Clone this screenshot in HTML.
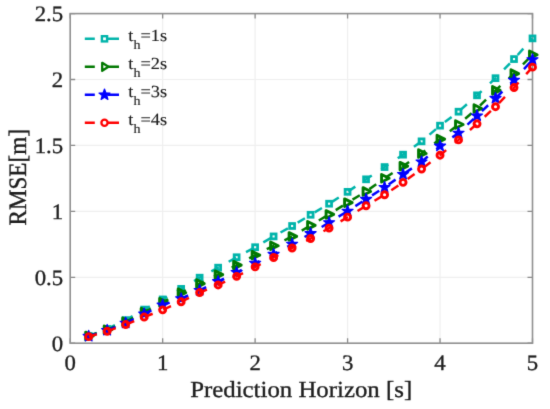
<!DOCTYPE html>
<html><head><meta charset="utf-8"><style>html,body{margin:0;padding:0;background:#fff;overflow:hidden}svg{display:block}text{text-rendering:geometricPrecision}</style></head>
<body>
<svg width="550" height="409" viewBox="0 0 550 409">
<defs><filter id="bl" x="0" y="0" width="100%" height="100%" color-interpolation-filters="sRGB"><feConvolveMatrix order="3" kernelMatrix="0.0113 0.0838 0.0113 0.0838 0.6193 0.0838 0.0113 0.0838 0.0113" divisor="1" edgeMode="duplicate" preserveAlpha="true"/></filter></defs>
<g filter="url(#bl)">
<rect width="550" height="409" fill="#fff"/>
<path d="M162.66 13.60V343.20M255.12 13.60V343.20M347.58 13.60V343.20M440.04 13.60V343.20M70.20 277.28H532.50M70.20 211.36H532.50M70.20 145.44H532.50M70.20 79.52H532.50" stroke="#efefef" stroke-width="1.2" fill="none"/>
<path d="M70.20 343.20v-5M70.20 13.60v5M162.66 343.20v-5M162.66 13.60v5M255.12 343.20v-5M255.12 13.60v5M347.58 343.20v-5M347.58 13.60v5M440.04 343.20v-5M440.04 13.60v5M532.50 343.20v-5M532.50 13.60v5M70.20 343.20h5M532.50 343.20h-5M70.20 277.28h5M532.50 277.28h-5M70.20 211.36h5M532.50 211.36h-5M70.20 145.44h5M532.50 145.44h-5M70.20 79.52h5M532.50 79.52h-5M70.20 13.60h5M532.50 13.60h-5" stroke="#8a8a8a" stroke-width="1.3" fill="none"/>
<rect x="70.20" y="13.60" width="462.30" height="329.60" fill="none" stroke="#909090" stroke-width="1.6"/>
<polyline points="88.69,335.82 107.18,328.96 125.68,320.13 144.17,309.58 162.66,299.43 181.15,288.88 199.64,277.68 218.14,267.66 236.63,257.24 255.12,247.22 273.61,236.41 292.10,225.99 310.60,214.79 329.09,203.71 347.58,191.85 366.07,179.32 384.56,167.06 403.06,154.67 421.55,141.35 440.04,125.66 458.53,111.69 477.02,95.34 495.52,78.20 514.01,59.08 532.50,38.39" fill="none" stroke="#00b4aa" stroke-width="2.5" stroke-dasharray="8.5 11.33" stroke-linecap="butt" stroke-linejoin="round"/>
<rect x="86.24" y="333.37" width="4.90" height="4.90" fill="none" stroke="#00b4aa" stroke-width="2.8"/>
<rect x="104.73" y="326.51" width="4.90" height="4.90" fill="none" stroke="#00b4aa" stroke-width="2.8"/>
<rect x="123.23" y="317.68" width="4.90" height="4.90" fill="none" stroke="#00b4aa" stroke-width="2.8"/>
<rect x="141.72" y="307.13" width="4.90" height="4.90" fill="none" stroke="#00b4aa" stroke-width="2.8"/>
<rect x="160.21" y="296.98" width="4.90" height="4.90" fill="none" stroke="#00b4aa" stroke-width="2.8"/>
<rect x="178.70" y="286.43" width="4.90" height="4.90" fill="none" stroke="#00b4aa" stroke-width="2.8"/>
<rect x="197.19" y="275.23" width="4.90" height="4.90" fill="none" stroke="#00b4aa" stroke-width="2.8"/>
<rect x="215.69" y="265.21" width="4.90" height="4.90" fill="none" stroke="#00b4aa" stroke-width="2.8"/>
<rect x="234.18" y="254.79" width="4.90" height="4.90" fill="none" stroke="#00b4aa" stroke-width="2.8"/>
<rect x="252.67" y="244.77" width="4.90" height="4.90" fill="none" stroke="#00b4aa" stroke-width="2.8"/>
<rect x="271.16" y="233.96" width="4.90" height="4.90" fill="none" stroke="#00b4aa" stroke-width="2.8"/>
<rect x="289.65" y="223.54" width="4.90" height="4.90" fill="none" stroke="#00b4aa" stroke-width="2.8"/>
<rect x="308.15" y="212.34" width="4.90" height="4.90" fill="none" stroke="#00b4aa" stroke-width="2.8"/>
<rect x="326.64" y="201.26" width="4.90" height="4.90" fill="none" stroke="#00b4aa" stroke-width="2.8"/>
<rect x="345.13" y="189.40" width="4.90" height="4.90" fill="none" stroke="#00b4aa" stroke-width="2.8"/>
<rect x="363.62" y="176.87" width="4.90" height="4.90" fill="none" stroke="#00b4aa" stroke-width="2.8"/>
<rect x="382.11" y="164.61" width="4.90" height="4.90" fill="none" stroke="#00b4aa" stroke-width="2.8"/>
<rect x="400.61" y="152.22" width="4.90" height="4.90" fill="none" stroke="#00b4aa" stroke-width="2.8"/>
<rect x="419.10" y="138.90" width="4.90" height="4.90" fill="none" stroke="#00b4aa" stroke-width="2.8"/>
<rect x="437.59" y="123.21" width="4.90" height="4.90" fill="none" stroke="#00b4aa" stroke-width="2.8"/>
<rect x="456.08" y="109.24" width="4.90" height="4.90" fill="none" stroke="#00b4aa" stroke-width="2.8"/>
<rect x="474.57" y="92.89" width="4.90" height="4.90" fill="none" stroke="#00b4aa" stroke-width="2.8"/>
<rect x="493.07" y="75.75" width="4.90" height="4.90" fill="none" stroke="#00b4aa" stroke-width="2.8"/>
<rect x="511.56" y="56.63" width="4.90" height="4.90" fill="none" stroke="#00b4aa" stroke-width="2.8"/>
<rect x="530.05" y="35.94" width="4.90" height="4.90" fill="none" stroke="#00b4aa" stroke-width="2.8"/>
<polyline points="88.69,335.95 107.18,329.75 125.68,321.84 144.17,312.22 162.66,302.33 181.15,292.71 199.64,283.61 218.14,274.64 236.63,265.15 255.12,255.13 273.61,245.77 292.10,236.41 310.60,225.34 329.09,214.39 347.58,202.66 366.07,191.45 384.56,178.27 403.06,166.14 421.55,153.48 440.04,139.11 458.53,124.48 477.02,108.52 495.52,90.33 514.01,73.59 532.50,54.73" fill="none" stroke="#007800" stroke-width="2.5" stroke-dasharray="8.5 11.33" stroke-linecap="butt" stroke-linejoin="round"/>
<polygon points="85.69,332.15 93.29,335.95 85.69,339.75" fill="none" stroke="#007800" stroke-width="2.9" stroke-linejoin="round"/>
<polygon points="104.18,325.95 111.78,329.75 104.18,333.55" fill="none" stroke="#007800" stroke-width="2.9" stroke-linejoin="round"/>
<polygon points="122.68,318.04 130.28,321.84 122.68,325.64" fill="none" stroke="#007800" stroke-width="2.9" stroke-linejoin="round"/>
<polygon points="141.17,308.42 148.77,312.22 141.17,316.02" fill="none" stroke="#007800" stroke-width="2.9" stroke-linejoin="round"/>
<polygon points="159.66,298.53 167.26,302.33 159.66,306.13" fill="none" stroke="#007800" stroke-width="2.9" stroke-linejoin="round"/>
<polygon points="178.15,288.91 185.75,292.71 178.15,296.51" fill="none" stroke="#007800" stroke-width="2.9" stroke-linejoin="round"/>
<polygon points="196.64,279.81 204.24,283.61 196.64,287.41" fill="none" stroke="#007800" stroke-width="2.9" stroke-linejoin="round"/>
<polygon points="215.14,270.84 222.74,274.64 215.14,278.44" fill="none" stroke="#007800" stroke-width="2.9" stroke-linejoin="round"/>
<polygon points="233.63,261.35 241.23,265.15 233.63,268.95" fill="none" stroke="#007800" stroke-width="2.9" stroke-linejoin="round"/>
<polygon points="252.12,251.33 259.72,255.13 252.12,258.93" fill="none" stroke="#007800" stroke-width="2.9" stroke-linejoin="round"/>
<polygon points="270.61,241.97 278.21,245.77 270.61,249.57" fill="none" stroke="#007800" stroke-width="2.9" stroke-linejoin="round"/>
<polygon points="289.10,232.61 296.70,236.41 289.10,240.21" fill="none" stroke="#007800" stroke-width="2.9" stroke-linejoin="round"/>
<polygon points="307.60,221.54 315.20,225.34 307.60,229.14" fill="none" stroke="#007800" stroke-width="2.9" stroke-linejoin="round"/>
<polygon points="326.09,210.59 333.69,214.39 326.09,218.19" fill="none" stroke="#007800" stroke-width="2.9" stroke-linejoin="round"/>
<polygon points="344.58,198.86 352.18,202.66 344.58,206.46" fill="none" stroke="#007800" stroke-width="2.9" stroke-linejoin="round"/>
<polygon points="363.07,187.65 370.67,191.45 363.07,195.25" fill="none" stroke="#007800" stroke-width="2.9" stroke-linejoin="round"/>
<polygon points="381.56,174.47 389.16,178.27 381.56,182.07" fill="none" stroke="#007800" stroke-width="2.9" stroke-linejoin="round"/>
<polygon points="400.06,162.34 407.66,166.14 400.06,169.94" fill="none" stroke="#007800" stroke-width="2.9" stroke-linejoin="round"/>
<polygon points="418.55,149.68 426.15,153.48 418.55,157.28" fill="none" stroke="#007800" stroke-width="2.9" stroke-linejoin="round"/>
<polygon points="437.04,135.31 444.64,139.11 437.04,142.91" fill="none" stroke="#007800" stroke-width="2.9" stroke-linejoin="round"/>
<polygon points="455.53,120.68 463.13,124.48 455.53,128.28" fill="none" stroke="#007800" stroke-width="2.9" stroke-linejoin="round"/>
<polygon points="474.02,104.72 481.62,108.52 474.02,112.32" fill="none" stroke="#007800" stroke-width="2.9" stroke-linejoin="round"/>
<polygon points="492.52,86.53 500.12,90.33 492.52,94.13" fill="none" stroke="#007800" stroke-width="2.9" stroke-linejoin="round"/>
<polygon points="511.01,69.79 518.61,73.59 511.01,77.39" fill="none" stroke="#007800" stroke-width="2.9" stroke-linejoin="round"/>
<polygon points="529.50,50.93 537.10,54.73 529.50,58.53" fill="none" stroke="#007800" stroke-width="2.9" stroke-linejoin="round"/>
<polyline points="88.69,336.21 107.18,330.28 125.68,323.03 144.17,313.93 162.66,304.97 181.15,298.64 199.64,290.33 218.14,281.50 236.63,272.40 255.12,263.17 273.61,254.21 292.10,244.06 310.60,233.51 329.09,222.57 347.58,211.10 366.07,199.23 384.56,187.37 403.06,174.31 421.55,161.79 440.04,145.97 458.53,133.05 477.02,115.78 495.52,98.24 514.01,80.05 532.50,59.61" fill="none" stroke="#0000ff" stroke-width="2.5" stroke-dasharray="8.5 11.33" stroke-linecap="butt" stroke-linejoin="round"/>
<polygon points="88.69,330.41 90.10,334.27 94.21,334.42 90.97,336.95 92.10,340.90 88.69,338.61 85.28,340.90 86.41,336.95 83.18,334.42 87.28,334.27" fill="#0000ff" stroke="#0000ff" stroke-width="1.2" stroke-linejoin="round"/>
<polygon points="107.18,324.48 108.59,328.34 112.70,328.49 109.47,331.02 110.59,334.97 107.18,332.68 103.77,334.97 104.90,331.02 101.67,328.49 105.77,328.34" fill="#0000ff" stroke="#0000ff" stroke-width="1.2" stroke-linejoin="round"/>
<polygon points="125.68,317.23 127.09,321.09 131.19,321.24 127.96,323.77 129.09,327.72 125.68,325.43 122.27,327.72 123.39,323.77 120.16,321.24 124.27,321.09" fill="#0000ff" stroke="#0000ff" stroke-width="1.2" stroke-linejoin="round"/>
<polygon points="144.17,308.13 145.58,311.99 149.68,312.14 146.45,314.67 147.58,318.62 144.17,316.33 140.76,318.62 141.89,314.67 138.65,312.14 142.76,311.99" fill="#0000ff" stroke="#0000ff" stroke-width="1.2" stroke-linejoin="round"/>
<polygon points="162.66,299.17 164.07,303.02 168.18,303.17 164.94,305.71 166.07,309.66 162.66,307.37 159.25,309.66 160.38,305.71 157.14,303.17 161.25,303.02" fill="#0000ff" stroke="#0000ff" stroke-width="1.2" stroke-linejoin="round"/>
<polygon points="181.15,292.84 182.56,296.70 186.67,296.85 183.43,299.38 184.56,303.33 181.15,301.04 177.74,303.33 178.87,299.38 175.64,296.85 179.74,296.70" fill="#0000ff" stroke="#0000ff" stroke-width="1.2" stroke-linejoin="round"/>
<polygon points="199.64,284.53 201.05,288.39 205.16,288.54 201.93,291.07 203.05,295.02 199.64,292.73 196.23,295.02 197.36,291.07 194.13,288.54 198.23,288.39" fill="#0000ff" stroke="#0000ff" stroke-width="1.2" stroke-linejoin="round"/>
<polygon points="218.14,275.70 219.55,279.56 223.65,279.71 220.42,282.24 221.55,286.19 218.14,283.90 214.73,286.19 215.85,282.24 212.62,279.71 216.73,279.56" fill="#0000ff" stroke="#0000ff" stroke-width="1.2" stroke-linejoin="round"/>
<polygon points="236.63,266.60 238.04,270.46 242.14,270.61 238.91,273.14 240.04,277.09 236.63,274.80 233.22,277.09 234.35,273.14 231.11,270.61 235.22,270.46" fill="#0000ff" stroke="#0000ff" stroke-width="1.2" stroke-linejoin="round"/>
<polygon points="255.12,257.37 256.53,261.23 260.64,261.38 257.40,263.91 258.53,267.87 255.12,265.57 251.71,267.87 252.84,263.91 249.60,261.38 253.71,261.23" fill="#0000ff" stroke="#0000ff" stroke-width="1.2" stroke-linejoin="round"/>
<polygon points="273.61,248.41 275.02,252.27 279.13,252.42 275.89,254.95 277.02,258.90 273.61,256.61 270.20,258.90 271.33,254.95 268.10,252.42 272.20,252.27" fill="#0000ff" stroke="#0000ff" stroke-width="1.2" stroke-linejoin="round"/>
<polygon points="292.10,238.26 293.51,242.11 297.62,242.26 294.39,244.80 295.51,248.75 292.10,246.46 288.69,248.75 289.82,244.80 286.59,242.26 290.69,242.11" fill="#0000ff" stroke="#0000ff" stroke-width="1.2" stroke-linejoin="round"/>
<polygon points="310.60,227.71 312.01,231.57 316.11,231.72 312.88,234.25 314.01,238.20 310.60,235.91 307.19,238.20 308.31,234.25 305.08,231.72 309.19,231.57" fill="#0000ff" stroke="#0000ff" stroke-width="1.2" stroke-linejoin="round"/>
<polygon points="329.09,216.77 330.50,220.62 334.60,220.77 331.37,223.31 332.50,227.26 329.09,224.97 325.68,227.26 326.81,223.31 323.57,220.77 327.68,220.62" fill="#0000ff" stroke="#0000ff" stroke-width="1.2" stroke-linejoin="round"/>
<polygon points="347.58,205.30 348.99,209.15 353.10,209.30 349.86,211.84 350.99,215.79 347.58,213.50 344.17,215.79 345.30,211.84 342.06,209.30 346.17,209.15" fill="#0000ff" stroke="#0000ff" stroke-width="1.2" stroke-linejoin="round"/>
<polygon points="366.07,193.43 367.48,197.29 371.59,197.44 368.35,199.97 369.48,203.92 366.07,201.63 362.66,203.92 363.79,199.97 360.56,197.44 364.66,197.29" fill="#0000ff" stroke="#0000ff" stroke-width="1.2" stroke-linejoin="round"/>
<polygon points="384.56,181.57 385.97,185.42 390.08,185.57 386.85,188.11 387.97,192.06 384.56,189.77 381.15,192.06 382.28,188.11 379.05,185.57 383.15,185.42" fill="#0000ff" stroke="#0000ff" stroke-width="1.2" stroke-linejoin="round"/>
<polygon points="403.06,168.51 404.47,172.37 408.57,172.52 405.34,175.05 406.47,179.01 403.06,176.71 399.65,179.01 400.77,175.05 397.54,172.52 401.65,172.37" fill="#0000ff" stroke="#0000ff" stroke-width="1.2" stroke-linejoin="round"/>
<polygon points="421.55,155.99 422.96,159.85 427.06,160.00 423.83,162.53 424.96,166.48 421.55,164.19 418.14,166.48 419.27,162.53 416.03,160.00 420.14,159.85" fill="#0000ff" stroke="#0000ff" stroke-width="1.2" stroke-linejoin="round"/>
<polygon points="440.04,140.17 441.45,144.03 445.56,144.18 442.32,146.71 443.45,150.66 440.04,148.37 436.63,150.66 437.76,146.71 434.52,144.18 438.63,144.03" fill="#0000ff" stroke="#0000ff" stroke-width="1.2" stroke-linejoin="round"/>
<polygon points="458.53,127.25 459.94,131.11 464.05,131.25 460.81,133.79 461.94,137.74 458.53,135.45 455.12,137.74 456.25,133.79 453.02,131.25 457.12,131.11" fill="#0000ff" stroke="#0000ff" stroke-width="1.2" stroke-linejoin="round"/>
<polygon points="477.02,109.98 478.43,113.83 482.54,113.98 479.31,116.52 480.43,120.47 477.02,118.18 473.61,120.47 474.74,116.52 471.51,113.98 475.61,113.83" fill="#0000ff" stroke="#0000ff" stroke-width="1.2" stroke-linejoin="round"/>
<polygon points="495.52,92.44 496.93,96.30 501.03,96.45 497.80,98.98 498.93,102.93 495.52,100.64 492.11,102.93 493.23,98.98 490.00,96.45 494.11,96.30" fill="#0000ff" stroke="#0000ff" stroke-width="1.2" stroke-linejoin="round"/>
<polygon points="514.01,74.25 515.42,78.11 519.52,78.26 516.29,80.79 517.42,84.74 514.01,82.45 510.60,84.74 511.73,80.79 508.49,78.26 512.60,78.11" fill="#0000ff" stroke="#0000ff" stroke-width="1.2" stroke-linejoin="round"/>
<polygon points="532.50,53.81 533.91,57.67 538.02,57.82 534.78,60.35 535.91,64.30 532.50,62.01 529.09,64.30 530.22,60.35 526.98,57.82 531.09,57.67" fill="#0000ff" stroke="#0000ff" stroke-width="1.2" stroke-linejoin="round"/>
<polyline points="88.69,336.63 107.18,331.26 125.68,324.56 144.17,317.07 162.66,309.84 181.15,301.80 199.64,292.57 218.14,284.93 236.63,276.36 255.12,266.86 273.61,257.50 292.10,248.01 310.60,238.52 329.09,228.10 347.58,217.16 366.07,205.82 384.56,194.75 403.06,182.36 421.55,169.04 440.04,155.20 458.53,139.90 477.02,123.82 495.52,106.68 514.01,87.56 532.50,67.13" fill="none" stroke="#ff0000" stroke-width="2.5" stroke-dasharray="8.5 11.33" stroke-linecap="butt" stroke-linejoin="round"/>
<circle cx="88.69" cy="336.63" r="3.0" fill="none" stroke="#ff0000" stroke-width="2.9"/>
<circle cx="107.18" cy="331.26" r="3.0" fill="none" stroke="#ff0000" stroke-width="2.9"/>
<circle cx="125.68" cy="324.56" r="3.0" fill="none" stroke="#ff0000" stroke-width="2.9"/>
<circle cx="144.17" cy="317.07" r="3.0" fill="none" stroke="#ff0000" stroke-width="2.9"/>
<circle cx="162.66" cy="309.84" r="3.0" fill="none" stroke="#ff0000" stroke-width="2.9"/>
<circle cx="181.15" cy="301.80" r="3.0" fill="none" stroke="#ff0000" stroke-width="2.9"/>
<circle cx="199.64" cy="292.57" r="3.0" fill="none" stroke="#ff0000" stroke-width="2.9"/>
<circle cx="218.14" cy="284.93" r="3.0" fill="none" stroke="#ff0000" stroke-width="2.9"/>
<circle cx="236.63" cy="276.36" r="3.0" fill="none" stroke="#ff0000" stroke-width="2.9"/>
<circle cx="255.12" cy="266.86" r="3.0" fill="none" stroke="#ff0000" stroke-width="2.9"/>
<circle cx="273.61" cy="257.50" r="3.0" fill="none" stroke="#ff0000" stroke-width="2.9"/>
<circle cx="292.10" cy="248.01" r="3.0" fill="none" stroke="#ff0000" stroke-width="2.9"/>
<circle cx="310.60" cy="238.52" r="3.0" fill="none" stroke="#ff0000" stroke-width="2.9"/>
<circle cx="329.09" cy="228.10" r="3.0" fill="none" stroke="#ff0000" stroke-width="2.9"/>
<circle cx="347.58" cy="217.16" r="3.0" fill="none" stroke="#ff0000" stroke-width="2.9"/>
<circle cx="366.07" cy="205.82" r="3.0" fill="none" stroke="#ff0000" stroke-width="2.9"/>
<circle cx="384.56" cy="194.75" r="3.0" fill="none" stroke="#ff0000" stroke-width="2.9"/>
<circle cx="403.06" cy="182.36" r="3.0" fill="none" stroke="#ff0000" stroke-width="2.9"/>
<circle cx="421.55" cy="169.04" r="3.0" fill="none" stroke="#ff0000" stroke-width="2.9"/>
<circle cx="440.04" cy="155.20" r="3.0" fill="none" stroke="#ff0000" stroke-width="2.9"/>
<circle cx="458.53" cy="139.90" r="3.0" fill="none" stroke="#ff0000" stroke-width="2.9"/>
<circle cx="477.02" cy="123.82" r="3.0" fill="none" stroke="#ff0000" stroke-width="2.9"/>
<circle cx="495.52" cy="106.68" r="3.0" fill="none" stroke="#ff0000" stroke-width="2.9"/>
<circle cx="514.01" cy="87.56" r="3.0" fill="none" stroke="#ff0000" stroke-width="2.9"/>
<circle cx="532.50" cy="67.13" r="3.0" fill="none" stroke="#ff0000" stroke-width="2.9"/>
<text transform="translate(70.20,370) scale(1.035,1)" text-anchor="middle" style="font-family:'Liberation Serif','Times New Roman',serif;stroke:#1e1e1e;stroke-width:0.35px;font-size:22px" fill="#1e1e1e">0</text>
<text transform="translate(162.66,370) scale(1.035,1)" text-anchor="middle" style="font-family:'Liberation Serif','Times New Roman',serif;stroke:#1e1e1e;stroke-width:0.35px;font-size:22px" fill="#1e1e1e">1</text>
<text transform="translate(255.12,370) scale(1.035,1)" text-anchor="middle" style="font-family:'Liberation Serif','Times New Roman',serif;stroke:#1e1e1e;stroke-width:0.35px;font-size:22px" fill="#1e1e1e">2</text>
<text transform="translate(347.58,370) scale(1.035,1)" text-anchor="middle" style="font-family:'Liberation Serif','Times New Roman',serif;stroke:#1e1e1e;stroke-width:0.35px;font-size:22px" fill="#1e1e1e">3</text>
<text transform="translate(440.04,370) scale(1.035,1)" text-anchor="middle" style="font-family:'Liberation Serif','Times New Roman',serif;stroke:#1e1e1e;stroke-width:0.35px;font-size:22px" fill="#1e1e1e">4</text>
<text transform="translate(532.50,370) scale(1.035,1)" text-anchor="middle" style="font-family:'Liberation Serif','Times New Roman',serif;stroke:#1e1e1e;stroke-width:0.35px;font-size:22px" fill="#1e1e1e">5</text>
<text transform="translate(63.2,350.50) scale(1.035,1)" text-anchor="end" style="font-family:'Liberation Serif','Times New Roman',serif;stroke:#1e1e1e;stroke-width:0.35px;font-size:22px" fill="#1e1e1e">0</text>
<text transform="translate(63.2,284.58) scale(1.035,1)" text-anchor="end" style="font-family:'Liberation Serif','Times New Roman',serif;stroke:#1e1e1e;stroke-width:0.35px;font-size:22px" fill="#1e1e1e">0.5</text>
<text transform="translate(63.2,218.66) scale(1.035,1)" text-anchor="end" style="font-family:'Liberation Serif','Times New Roman',serif;stroke:#1e1e1e;stroke-width:0.35px;font-size:22px" fill="#1e1e1e">1</text>
<text transform="translate(63.2,152.74) scale(1.035,1)" text-anchor="end" style="font-family:'Liberation Serif','Times New Roman',serif;stroke:#1e1e1e;stroke-width:0.35px;font-size:22px" fill="#1e1e1e">1.5</text>
<text transform="translate(63.2,86.82) scale(1.035,1)" text-anchor="end" style="font-family:'Liberation Serif','Times New Roman',serif;stroke:#1e1e1e;stroke-width:0.35px;font-size:22px" fill="#1e1e1e">2</text>
<text transform="translate(63.2,20.90) scale(1.035,1)" text-anchor="end" style="font-family:'Liberation Serif','Times New Roman',serif;stroke:#1e1e1e;stroke-width:0.35px;font-size:22px" fill="#1e1e1e">2.5</text>
<text x="301.2" y="396.5" text-anchor="middle" textLength="222" lengthAdjust="spacingAndGlyphs" style="font-family:'Liberation Serif','Times New Roman',serif;stroke:#1e1e1e;stroke-width:0.35px;font-size:23px" fill="#1e1e1e">Prediction Horizon [s]</text>
<text transform="translate(26.0,177.3) rotate(-90) scale(1.05,1.14)" text-anchor="middle" style="font-family:'Liberation Serif','Times New Roman',serif;stroke:#1e1e1e;stroke-width:0.35px;font-size:22px" fill="#1e1e1e">RMSE[m]</text>
<path d="M84.8 38.80H94.8M107.6 38.80H119" stroke="#00b4aa" stroke-width="2.5" stroke-linecap="butt"/>
<rect x="101.90" y="36.20" width="5.20" height="5.20" fill="none" stroke="#00b4aa" stroke-width="2.4"/>
<text transform="translate(128.3,41.00) scale(1.08,1)" style="font-family:'Liberation Serif','Times New Roman',serif;stroke:#1e1e1e;stroke-width:0.15px;font-size:17px" fill="#1e1e1e">t<tspan dy="8.2" style="font-size:13px">h</tspan><tspan dy="-8.2">=</tspan>1s</text>
<path d="M84.8 66.80H94.8M107.6 66.80H119" stroke="#007800" stroke-width="2.5" stroke-linecap="butt"/>
<polygon points="102.20,62.80 108.40,66.80 102.20,70.80" fill="none" stroke="#007800" stroke-width="2.3" stroke-linejoin="round"/>
<text transform="translate(128.3,69.00) scale(1.08,1)" style="font-family:'Liberation Serif','Times New Roman',serif;stroke:#1e1e1e;stroke-width:0.15px;font-size:17px" fill="#1e1e1e">t<tspan dy="8.2" style="font-size:13px">h</tspan><tspan dy="-8.2">=</tspan>2s</text>
<path d="M84.8 94.80H94.8M107.6 94.80H119" stroke="#0000ff" stroke-width="2.5" stroke-linecap="butt"/>
<polygon points="104.50,89.00 105.91,92.86 110.02,93.01 106.78,95.54 107.91,99.49 104.50,97.20 101.09,99.49 102.22,95.54 98.98,93.01 103.09,92.86" fill="#0000ff" stroke="#0000ff" stroke-width="1.2" stroke-linejoin="round"/>
<text transform="translate(128.3,97.00) scale(1.08,1)" style="font-family:'Liberation Serif','Times New Roman',serif;stroke:#1e1e1e;stroke-width:0.15px;font-size:17px" fill="#1e1e1e">t<tspan dy="8.2" style="font-size:13px">h</tspan><tspan dy="-8.2">=</tspan>3s</text>
<path d="M84.8 122.80H94.8M107.6 122.80H119" stroke="#ff0000" stroke-width="2.5" stroke-linecap="butt"/>
<circle cx="104.50" cy="122.80" r="3.1" fill="none" stroke="#ff0000" stroke-width="2.3"/>
<text transform="translate(128.3,125.00) scale(1.08,1)" style="font-family:'Liberation Serif','Times New Roman',serif;stroke:#1e1e1e;stroke-width:0.15px;font-size:17px" fill="#1e1e1e">t<tspan dy="8.2" style="font-size:13px">h</tspan><tspan dy="-8.2">=</tspan>4s</text>
</g>
</svg>
</body></html>
